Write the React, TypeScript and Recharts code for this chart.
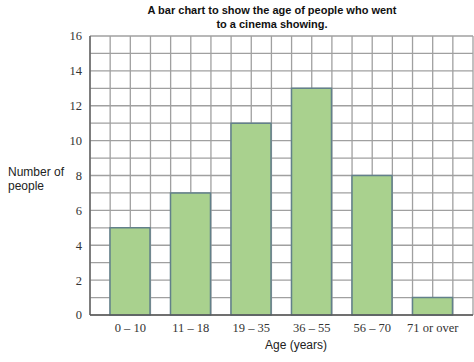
import React from 'react';
import { BarChart, Bar, XAxis, YAxis, ReferenceLine, CartesianGrid } from 'recharts';

const categories = ['0 – 10', '11 – 18', '19 – 35', '36 – 55', '56 – 70', '71 or over'];
const counts = [5, 7, 11, 13, 8, 1];
const yTicks = [0, 2, 4, 6, 8, 10, 12, 14, 16];
const gridYTicks = [0, 1, 2, 3, 4, 5, 6, 7, 8, 9, 10, 11, 12, 13, 14, 15, 16];
const gridXTicks = [0, 1, 2, 3, 4, 5, 6, 7, 8, 9, 10, 11, 12, 13, 14, 15, 16, 17, 18, 19];
const titleLines = ['A bar chart to show the age of people who went', 'to a cinema showing.'];
const xLabel = 'Age (years)';
const yLabelLines = ['Number of', 'people'];

const data = categories.map((age, i) => ({ age, people: counts[i] }));

const sans = '"Liberation Sans", Arial, sans-serif';
const serif = '"Liberation Serif", "Times New Roman", serif';
const gridColor = '#a0a0a0';

const cells = gridXTicks[gridXTicks.length - 1];

function verticalGen(props: any) {
  const off = props && props.offset ? props.offset : { left: 90, width: 383 };
  return gridXTicks.map((v) => off.left + (v * off.width) / cells);
}

export default function App() {
  return (
    <div style={{ position: 'absolute', left: 0, top: 0, width: 474, height: 362, background: '#fff' }}>
      <BarChart
        width={474}
        height={362}
        data={data}
        margin={{ top: 36, right: 1, bottom: 17, left: 0 }}
        barCategoryGap={0}
      >
        <XAxis dataKey="age" type="category" padding={{ left: 10, right: 10 }}
          tickLine={false} axisLine={{ stroke: '#595959', strokeWidth: 1.3 }}
          tick={{ fontFamily: serif, fontSize: 12.5, fill: '#333' }} interval={0} height={30} />
        <YAxis type="number" domain={[0, 16]} ticks={yTicks} width={90}
          tickLine={false} axisLine={{ stroke: '#595959', strokeWidth: 1.3 }}
          tick={{ fontFamily: serif, fontSize: 12.5, fill: '#333' }} />
        <CartesianGrid horizontal={false} verticalCoordinatesGenerator={verticalGen}
          stroke={gridColor} strokeWidth={1.3} />
        {gridYTicks.map((v) => (
          <ReferenceLine key={'hy' + v} y={v} stroke={gridColor} strokeWidth={1.3} zIndex={-50} />
        ))}
        <Bar dataKey="people" barSize={40} fill="#a9d18e"
          stroke="#62808a" strokeWidth={1.5} isAnimationActive={false} />
      </BarChart>
      <div style={{ position: 'absolute', left: 0, top: 3, width: 544, textAlign: 'center', fontFamily: sans,
        fontWeight: 'bold', fontSize: 11, lineHeight: '14px', color: '#111' }}>
        <div>{titleLines[0]}</div>
        <div>{titleLines[1]}</div>
      </div>
      <div style={{ position: 'absolute', left: 8, top: 165, fontFamily: sans, fontSize: 12, lineHeight: '14px', color: '#222' }}>
        <div>{yLabelLines[0]}</div>
        <div>{yLabelLines[1]}</div>
      </div>
      <div style={{ position: 'absolute', left: 196, top: 338, width: 200, textAlign: 'center', fontFamily: sans,
        fontSize: 12, lineHeight: '14px', color: '#222' }}>
        {xLabel}
      </div>
    </div>
  );
}
